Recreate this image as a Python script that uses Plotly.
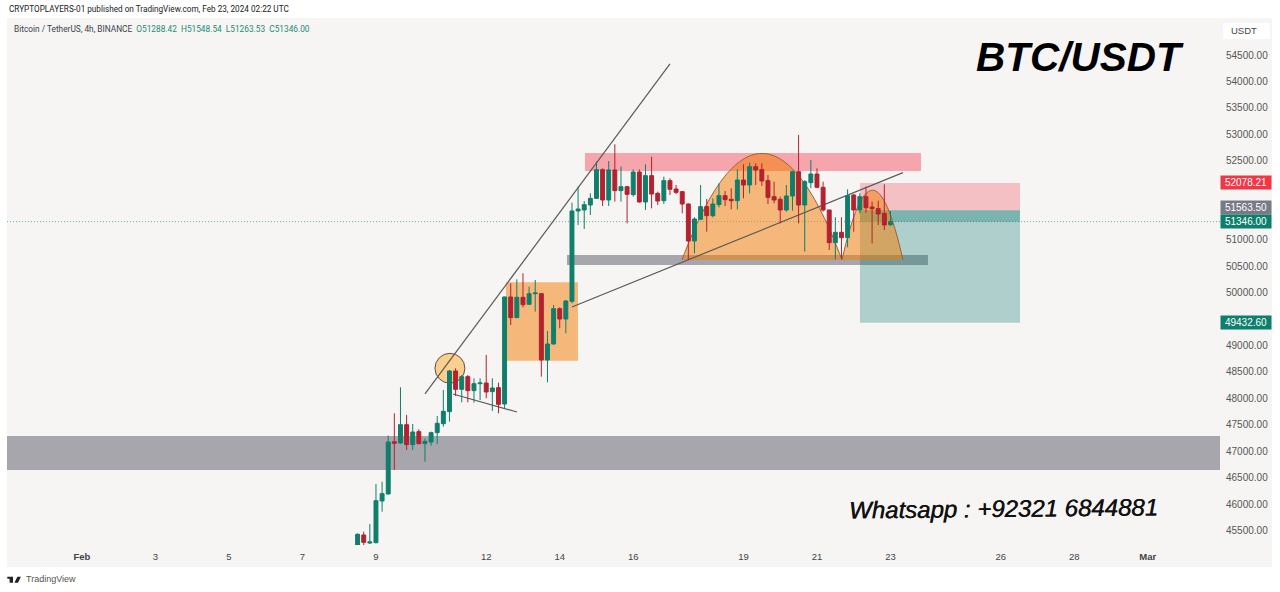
import pandas as pd
import plotly.graph_objects as go

# 4h candles
START = '2024-02-08 12:00'
OPEN = [45225,45415,45263,45269,46058,46191,47181,47156,47503,47125,47371,47144,47175,47352,47522,47749,48519,48172,48412,48147,48279,48292,48128,48204,47894,49920,49529,49914,49781,49983,49983,48727,49030,49699,49503,
        49838,51548,51567,51661,51787,52330,51756,52324,51933,52008,51857,52286,51718,52217,51882,51743,52122,51964,51914,51680,50980,51390,51630,51459,51668,51838,51768,51743,
        52134,52040,52387,52330,52122,51819,51768,51567,51832,52292,51661,52084,52248,51996,51567,50948,51144,51043,51851,51567,51819,51623,51592,51504,51288.42]
HIGH = [45446,45478,45623,46380,46424,47295,47718,48210,47686,47516,47415,47244,47371,47667,48159,48538,48570,48443,48443,48380,48380,48822,48380,48298,49926,50179,50254,50368,50115,50242,49989,49276,49768,49724,49863,
        51705,52008,51737,51882,52482,52355,52494,52810,52387,52021,52336,52336,52431,52576,51914,52198,52166,52040,51926,51693,51428,52040,51775,51787,52071,51926,51977,52336,
        52431,52463,52450,52450,52229,52103,51819,52040,52311,52986,52134,52513,52355,52103,51567,51428,51428,51958,51863,51882,52008,51724,51743,52052,51548.54]
LOW = [45213,45225,45244,45257,45856,46180,46645,47137,47024,47024,47131,46803,47106,47137,47465,47560,48046,47926,47926,47920,47970,48002,47762,47718,47812,49390,49520,49724,49768,49642,48412,48305,49017,49327,49232,
       49800,51283,51207,51472,51775,51642,51642,51724,51724,51314,51819,51705,51567,51598,51661,51680,51851,51869,51504,50620,50746,51377,51156,51428,51617,51642,51579,51579,
       51787,51882,52040,52021,51680,51693,51314,51535,51554,51314,50778,51977,51977,51535,50809,50633,50652,50860,51156,51504,51516,50936,51283,51188,51263.53]
CLOSE = [45427,45276,45282,46064,46197,47175,47150,47503,47125,47364,47144,47188,47352,47529,47756,48519,48172,48412,48147,48279,48292,48121,48197,47888,49920,49529,49914,49775,49983,49996,48727,49030,49699,49503,49844,
         51548,51586,51668,51787,52330,51756,52324,51933,52008,51863,52286,51718,52217,51869,51737,52122,51958,51901,51680,50980,51396,51630,51459,51680,51838,51762,51743,52134,
         52040,52387,52324,52116,51806,51756,51567,51832,52292,51661,52103,52248,51996,51567,50948,51144,51043,51838,51567,51819,51611,51592,51491,51283,51346.00]

# 49500, 51500 and 52000 are covered by the price tags
PRICE_TICKS = [45500,46000,46500,47000,47500,48000,48500,49000,50000,50500,51000,52500,53000,53500,54000,54500]
DATE_TICKS = ['2024-02-01','2024-02-03','2024-02-05','2024-02-07','2024-02-09','2024-02-12','2024-02-14','2024-02-16',
              '2024-02-19','2024-02-21','2024-02-23','2024-02-26','2024-02-28','2024-03-01']
DATE_LABELS = ['<b>Feb</b>','3','5','7','9','12','14','16','19','21','23','26','28','<b>Mar</b>']

STOP_PRICE = 52078.21
ENTRY_PRICE = 51563.50
LAST_PRICE = 51346.00
TARGET_PRICE = 49432.60

GREEN = '#0f7f6b'
RED = '#b2222f'
TAG_GREEN = '#0c7f6d'
TAG_RED = '#f23645'
TAG_GRAY = '#787b86'
ORANGE = 'rgba(245,124,0,0.5)'
ARC_LINE = '#9a6238'
LINE = '#5a5a5a'
FONT = 'Liberation Sans'
SMALL_FONT = 'Roboto'

# pixel box of the plot area
PLOT_L, PLOT_R, PLOT_T, PLOT_B = 7, 1220, 18, 545


def px_x(x):
    return (x - PLOT_L) / (PLOT_R - PLOT_L)


def px_y(y):
    return (PLOT_B - y) / (PLOT_B - PLOT_T)


def feb(day):
    # fractional day of February -> date string
    t = pd.Timestamp('2024-02-01') + pd.Timedelta(days=day - 1)
    return t.strftime('%Y-%m-%d %H:%M:%S')


def rect(d0, d1, p0, p1, color):
    return dict(type='rect', layer='below', xref='x', yref='y', x0=feb(d0), x1=feb(d1), y0=p0, y1=p1,
                fillcolor=color, line=dict(width=0))


def seg(d0, p0, d1, p1):
    return dict(type='line', layer='below', xref='x', yref='y', x0=feb(d0), x1=feb(d1), y0=p0, y1=p1,
                line=dict(color=LINE, width=1.2))


def arc(d0, d1, d2, d3, base, ctrl):
    a, b, c, d = [feb(v).replace(' ', '_') for v in (d0, d1, d2, d3)]
    return dict(type='path', layer='below', xref='x', yref='y',
                path=f'M {a},{base} C {b},{ctrl} {c},{ctrl} {d},{base}',
                fillcolor=ORANGE, line=dict(color=ARC_LINE, width=1))


def tag(price, color, shift=0):
    return dict(xref='paper', yref='y', x=1, y=price, yshift=shift, xanchor='left', yanchor='middle',
                text=f'{price:.2f}', showarrow=False, width=50, height=13, align='center',
                bgcolor=color, borderpad=0, font=dict(family=FONT, size=10, color='white'))


def label(x, y, text, size, color='#222222', anchor='left', angle=0, shadow=None, family=FONT):
    font = dict(family=family, size=size, color=color)
    if shadow:
        font['shadow'] = shadow
    return dict(xref='paper', yref='paper', x=px_x(x), y=px_y(y), text=text, showarrow=False,
                xanchor=anchor, yanchor='middle', textangle=angle, font=font)


dates = pd.date_range(START, periods=len(OPEN), freq='4h')

fig = go.Figure(go.Candlestick(
    x=dates, open=OPEN, high=HIGH, low=LOW, close=CLOSE,
    increasing=dict(line=dict(color=GREEN, width=1), fillcolor=GREEN),
    decreasing=dict(line=dict(color=RED, width=1), fillcolor=RED),
    whiskerwidth=0, hoverinfo='skip',
))

shapes = [
    # chart frame incl. price scale and time scale
    dict(type='rect', layer='below', xref='paper', yref='paper', x0=0, x1=px_x(1272), y0=px_y(567), y1=1,
         fillcolor='#f6f5f4', line=dict(width=0)),
    dict(type='rect', layer='below', xref='paper', yref='paper', x0=px_x(1223), x1=px_x(1270), y0=px_y(39), y1=px_y(23),
         fillcolor='white', line=dict(width=0)),
    # zones
    dict(type='rect', layer='below', xref='paper', yref='y', x0=0, x1=1, y0=46645, y1=47289,
         fillcolor='rgba(110,108,122,0.58)', line=dict(width=0)),
    rect(14.687, 23.83, 52305, 52646, 'rgba(242,54,69,0.42)'),
    rect(12.537, 14.497, 48714, 50199, ORANGE),
    rect(14.197, 24.02, 50526, 50715, 'rgba(110,108,122,0.58)'),
    # short position
    rect(22.17, 26.524, ENTRY_PRICE, STOP_PRICE, 'rgba(242,54,69,0.28)'),
    rect(22.17, 26.524, TARGET_PRICE, ENTRY_PRICE, 'rgba(8,120,110,0.3)'),
    rect(22.17, 26.524, LAST_PRICE, ENTRY_PRICE, 'rgba(8,120,110,0.3)'),
    # last price line
    dict(type='line', layer='below', xref='paper', yref='y', x0=0, x1=1, y0=LAST_PRICE, y1=LAST_PRICE,
         line=dict(color='rgba(12,150,125,0.65)', width=1, dash='1px,2px')),
    # arcs
    arc(17.327, 18.769, 20.238, 21.68, 50621, 53309),
    arc(21.68, 22.252, 22.769, 23.34, 50621, 52381),
    # circle
    dict(type='circle', layer='below', xref='x', yref='y', x0=feb(10.605), x1=feb(11.42), y0=48287, y1=48853,
         fillcolor='rgba(255,170,40,0.5)', line=dict(color='#5d5040', width=1)),
    # trend lines
    seg(10.333, 48084, 17.0, 54331),
    seg(11.095, 48084, 12.837, 47743),
    seg(14.333, 49731, 23.34, 52273),
    # TradingView mark
    dict(type='path', layer='above', xref='paper', yref='paper',
         path=f'M {px_x(7.3)},{px_y(576.7)} L {px_x(13)},{px_y(576.7)} L {px_x(13)},{px_y(582.7)} L {px_x(9.6)},{px_y(582.7)} '
              f'L {px_x(9.6)},{px_y(578.8)} L {px_x(7.3)},{px_y(578.8)} Z '
              f'M {px_x(17.4)},{px_y(576.7)} L {px_x(20.9)},{px_y(576.7)} L {px_x(18)},{px_y(582.7)} L {px_x(14.4)},{px_y(582.7)} Z',
         fillcolor='#222222', line=dict(width=0)),
]

ohlc = (f'<span style="color:#3a3f4a">Bitcoin / TetherUS, 4h, BINANCE</span>  '
        f'<span style="color:#1f8a76">O{OPEN[-1]:.2f}  H{HIGH[-1]:.2f}  L{LOW[-1]:.2f}  C{CLOSE[-1]:.2f}</span>')

annotations = [
    label(7, 9, 'CRYPTOPLAYERS-01 published on TradingView.com, Feb 23, 2024 02:22 UTC', 8.2, family=SMALL_FONT),
    label(12, 29, ohlc, 8.3, family=SMALL_FONT),
    label(24, 579, 'TradingView', 9, color='#555555'),
    label(1229, 30, 'USDT', 9.5, color='#444444'),
    label(1080, 57, '<b><i>BTC/USDT</i></b>', 40.5, color='black', anchor='center'),
    label(1003, 508, '<i>Whatsapp : +92321 6844881</i>', 24, color='#111111', anchor='center', angle=-0.6,
          shadow='0.5px 0 0 #111111'),
    tag(STOP_PRICE, TAG_RED),
    tag(ENTRY_PRICE, TAG_GRAY, shift=3),
    tag(LAST_PRICE, TAG_GREEN),
    tag(TARGET_PRICE, TAG_GREEN),
]

fig.update_layout(
    width=1280, height=592,
    margin=dict(l=PLOT_L, r=1280 - PLOT_R, t=PLOT_T, b=592 - PLOT_B),
    paper_bgcolor='white', plot_bgcolor='rgba(0,0,0,0)',
    showlegend=False, hovermode=False,
    boxgap=0.2, boxgroupgap=0.2,
    shapes=shapes, annotations=annotations,
    xaxis=dict(type='date', range=[feb(-1.04), feb(31.967)], rangeslider=dict(visible=False),
               showgrid=False, zeroline=False, showline=False,
               tickmode='array', tickvals=DATE_TICKS, ticktext=DATE_LABELS, ticks='outside', ticklen=3,
               tickcolor='rgba(0,0,0,0)', tickangle=0, tickfont=dict(family=FONT, size=9.5, color='#444444')),
    yaxis=dict(side='right', range=[45225, 55201], showgrid=False, zeroline=False, showline=False,
               tickmode='array', tickvals=PRICE_TICKS, tickformat='.2f', ticks='outside', ticklen=3,
               tickcolor='rgba(0,0,0,0)', tickfont=dict(family=FONT, size=10, color='#555555')),
)

# page margin off so the chart sits at the top-left corner
fig.write_html("out.html", config={'displayModeBar': False}, post_script="document.body.style.margin='0';")
